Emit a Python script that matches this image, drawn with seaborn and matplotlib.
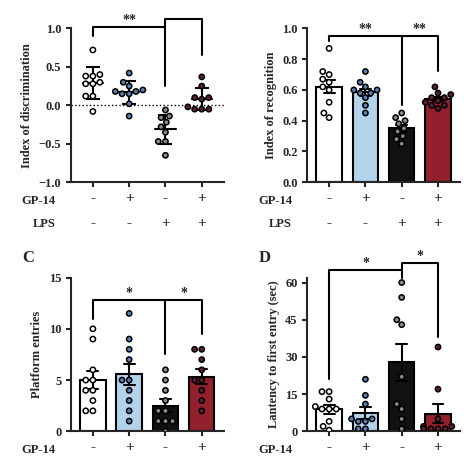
import numpy as np
import pandas as pd
import matplotlib
matplotlib.use("Agg")
import matplotlib.pyplot as plt
import seaborn as sns

groups = ["g1", "g2", "g3", "g4"]
gp14 = ["-", "+", "-", "+"]
lps = ["-", "-", "+", "+"]
bar_colors = ["white", "#a9d4f5", "#111111", "#a50d1e"]
dot_colors = ["white", "#5b7fb5", "#8a8a8a", "#5e1f33"]

disc = [
    [0.72, 0.40, 0.38, 0.38, 0.28, 0.28, 0.12, 0.12, -0.08, 0.30],
    [0.42, 0.30, 0.20, 0.18, 0.18, 0.15, 0.15, 0.02, -0.14, 0.25],
    [-0.06, -0.14, -0.16, -0.22, -0.28, -0.35, -0.47, -0.47, -0.65],
    [0.37, 0.25, 0.10, 0.10, 0.08, -0.05, -0.05, -0.05, -0.02],
]
recog = [
    [0.87, 0.72, 0.67, 0.65, 0.62, 0.60, 0.52, 0.45, 0.42, 0.70],
    [0.72, 0.65, 0.62, 0.60, 0.58, 0.58, 0.55, 0.50, 0.45, 0.60],
    [0.45, 0.42, 0.38, 0.35, 0.33, 0.30, 0.28, 0.25, 0.40],
    [0.62, 0.58, 0.55, 0.55, 0.53, 0.52, 0.50, 0.50, 0.48, 0.57],
]
entries = [
    [10, 9, 5, 5, 4, 4, 3, 2, 2, 6],
    [11.5, 9, 8, 7, 5, 4, 3, 2, 1, 5],
    [6, 5, 4, 3, 2, 2, 1, 1, 0, 1],
    [8, 8, 7, 6, 5, 5, 4, 3, 2],
]
latency = [
    [16, 16, 13, 10, 9, 9, 9, 4, 2, 0.5],
    [21, 14.5, 11, 5, 5, 4, 4, 1, 1],
    [60, 54, 45, 43, 22, 11, 9, 5, 1],
    [34, 17, 5, 2, 2, 1, 1, 1, 1],
]

def frame(vals):
    rows = [(g, v) for g, vs in zip(groups, vals) for v in vs]
    return pd.DataFrame(rows, columns=["group", "value"])

sns.set_style("ticks")
plt.rcParams["font.family"] = ["Liberation Serif", "DejaVu Serif"]
plt.rcParams["font.weight"] = "bold"
plt.rcParams["axes.labelweight"] = "bold"

fig, axs = plt.subplots(2, 2, figsize=(4.74, 4.74), dpi=100)

def dots(ax, df, size=3.8):
    sns.swarmplot(data=df, x="group", y="value", hue="group", palette=dot_colors,
                  order=groups, size=size, edgecolor="black", linewidth=1.1,
                  legend=False, ax=ax)

def bars(ax, df):
    sns.barplot(data=df, x="group", y="value", hue="group", palette=bar_colors, order=groups,
                errorbar="se", capsize=0.3, edgecolor="black", linewidth=1.5,
                err_kws={"color": "black", "linewidth": 1.5}, legend=False, width=0.7, ax=ax)

def bracket(ax, x1, y1, x2, y2, top, text):
    ax.plot([x1, x1, x2, x2], [y1, top, top, y2], color="black", lw=1.5, clip_on=False)
    ax.text((x1 + x2) / 2, top, text, ha="center", va="bottom", fontsize=10, weight="bold")

def rows(ax, show_lps=True):
    ax.set_xticks(range(4))
    ax.set_xticklabels(gp14, fontsize=11)
    ax.set_xlabel("")
    ax.text(-0.1, -0.12, "GP-14", transform=ax.transAxes, ha="right", va="center",
            fontsize=9, weight="bold")
    if show_lps:
        for i, s in enumerate(lps):
            ax.text(i, -0.27, s, transform=ax.get_xaxis_transform(), ha="center", va="center",
                    fontsize=11, weight="bold")
        ax.text(-0.1, -0.27, "LPS", transform=ax.transAxes, ha="right", va="center",
                fontsize=9, weight="bold")

# A
ax = axs[0, 0]
df = frame(disc)
dots(ax, df)
for i, vs in enumerate(disc):
    m, s = np.mean(vs), np.std(vs, ddof=1)
    ax.errorbar(i, m, yerr=s, color="black", capsize=5, lw=1.5, capthick=1.5, zorder=1)
    ax.plot([i - 0.28, i + 0.28], [m, m], color="black", lw=1.5, zorder=1)
ax.axhline(0, color="black", ls=":", lw=1)
ax.set_ylim(-1, 1)
ax.set_yticks([-1, -0.5, 0, 0.5, 1])
ax.set_ylabel("Index of discrimination", fontsize=9)
bracket(ax, 0, 0.9, 2, 0.25, 1.02, "**")
bracket(ax, 2, 1.02, 3, 0.65, 1.12, "")
rows(ax)

# B
ax = axs[0, 1]
df = frame(recog)
bars(ax, df)
dots(ax, df)
ax.set_ylim(0, 1)
ax.set_ylabel("Index of recognition", fontsize=9)
bracket(ax, 0, 0.92, 2, 0.5, 0.95, "**")
bracket(ax, 2, 0.95, 3, 0.72, 0.95, "**")
rows(ax)

# C
ax = axs[1, 0]
df = frame(entries)
bars(ax, df)
dots(ax, df)
ax.set_ylim(0, 15)
ax.set_yticks([0, 5, 10, 15])
ax.set_ylabel("Platform entries", fontsize=9)
bracket(ax, 0, 11, 2, 7.5, 12.8, "*")
bracket(ax, 2, 12.8, 3, 9.5, 12.8, "*")
rows(ax, show_lps=False)
ax.text(-0.32, 1.1, "C", transform=ax.transAxes, fontsize=12, weight="bold")

# D
ax = axs[1, 1]
df = frame(latency)
bars(ax, df)
dots(ax, df)
ax.set_ylim(0, 62)
ax.set_yticks([0, 15, 30, 45, 60])
ax.set_ylabel("Lantency to first entry (sec)", fontsize=9)
bracket(ax, 0, 21, 2, 62, 65, "*")
bracket(ax, 2, 65, 3, 38, 68, "*")
rows(ax, show_lps=False)
ax.text(-0.32, 1.1, "D", transform=ax.transAxes, fontsize=12, weight="bold")

for ax in axs.flat:
    sns.despine(ax=ax)
    ax.spines["left"].set_linewidth(1.5)
    ax.spines["bottom"].set_linewidth(1.5)
    ax.tick_params(width=1.5, labelsize=9)
    ax.tick_params(axis="x", labelsize=11)
    ax.set_xlim(-0.6, 3.6)

fig.subplots_adjust(left=0.15, right=0.97, top=0.94, bottom=0.09, wspace=0.55, hspace=0.62)
fig.savefig("out.png", dpi=100)
